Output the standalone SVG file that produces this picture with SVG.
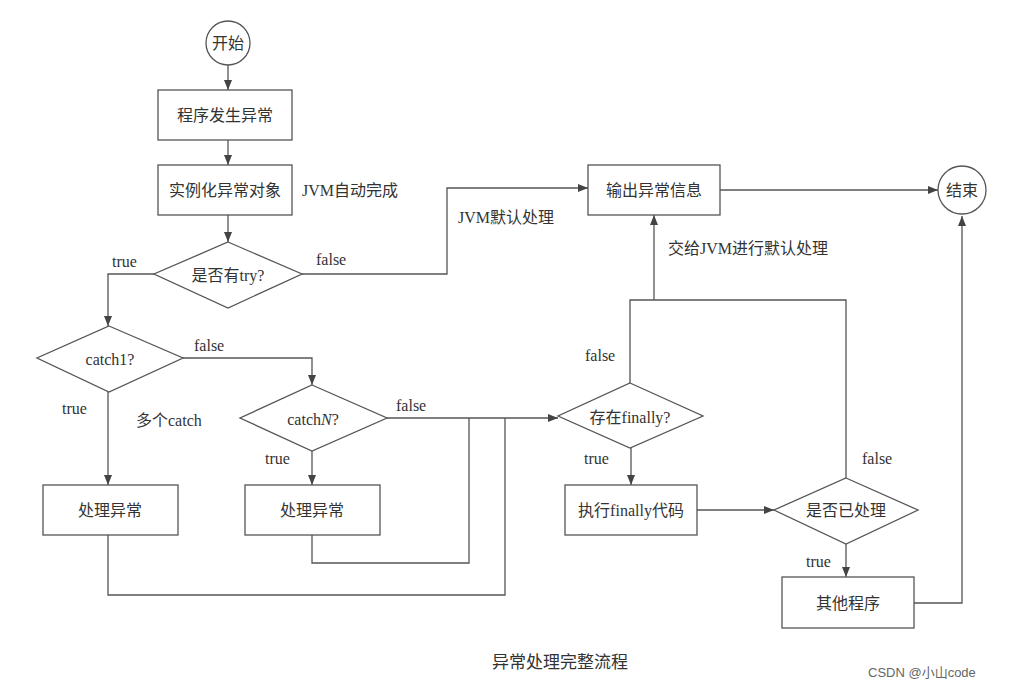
<svg xmlns="http://www.w3.org/2000/svg" width="1035" height="690" viewBox="0 0 1035 690">
<defs>
<marker id="a" markerWidth="10" markerHeight="8" refX="10" refY="4" orient="auto" markerUnits="userSpaceOnUse"><path d="M0,0 L10,4 L0,8 Z" fill="#444"/></marker>
<style>
.s{fill:#fff;stroke:#555;stroke-width:1.3}
.c{fill:none;stroke:#555;stroke-width:1.3}
.t{font-family:"Liberation Serif","Noto Sans CJK SC",serif;font-size:16px;fill:#333}
.m{text-anchor:middle;dominant-baseline:central}
</style>
</defs>
<rect width="1035" height="690" fill="#fff"/>
<g id="connectors" class="c">
<path d="M228,65 V90" marker-end="url(#a)"/>
<path d="M228,140 V165" marker-end="url(#a)"/>
<path d="M228,215 V242" marker-end="url(#a)"/>
<path d="M302,274 H447 V188 H588" marker-end="url(#a)"/>
<path d="M720,190 H938" marker-end="url(#a)"/>
<path d="M154,274 H108 V326" marker-end="url(#a)"/>
<path d="M183,358 H312 V385" marker-end="url(#a)"/>
<path d="M387,418 H558" marker-end="url(#a)"/>
<path d="M108,392 V485" marker-end="url(#a)"/>
<path d="M312,451 V485" marker-end="url(#a)"/>
<path d="M312,535 V563 H469 V418"/>
<path d="M108,535 V595 H505 V418"/>
<path d="M630,383 V300 H846 V478"/>
<path d="M654,300 V215" marker-end="url(#a)"/>
<path d="M631,448 V485" marker-end="url(#a)"/>
<path d="M697,510 H774" marker-end="url(#a)"/>
<path d="M846,544 V577" marker-end="url(#a)"/>
<path d="M914,603 H962 V216" marker-end="url(#a)"/>
</g>
<g id="start"><circle class="s" cx="228" cy="43" r="22"/><text class="t m" x="228" y="43">开始</text></g>
<g id="n1"><rect class="s" x="158" y="90" width="134" height="50"/><text class="t m" x="225" y="115">程序发生异常</text></g>
<g id="n2"><rect class="s" x="158" y="165" width="134" height="50"/><text class="t m" x="225" y="190">实例化异常对象</text></g>
<g id="try"><polygon class="s" points="228,242 302,274 228,308 154,274"/><text class="t m" x="228" y="275">是否有try?</text></g>
<g id="out"><rect class="s" x="588" y="165" width="132" height="50"/><text class="t m" x="654" y="190">输出异常信息</text></g>
<g id="end"><circle class="s" cx="962" cy="190" r="24"/><text class="t m" x="962" y="190">结束</text></g>
<g id="catch1"><polygon class="s" points="109,326 183,358 109,392 37,358"/><text class="t m" x="110" y="359">catch1?</text></g>
<g id="catchN"><polygon class="s" points="312,385 387,418 312,451 240,418"/><text class="t m" x="313" y="419">catch<tspan font-style="italic">N</tspan>?</text></g>
<g id="h1"><rect class="s" x="43" y="485" width="135" height="50"/><text class="t m" x="110" y="510">处理异常</text></g>
<g id="h2"><rect class="s" x="245" y="485" width="135" height="50"/><text class="t m" x="312" y="510">处理异常</text></g>
<g id="fin"><polygon class="s" points="630,383 703,416 630,448 558,416"/><text class="t m" x="630" y="417">存在finally?</text></g>
<g id="exec"><rect class="s" x="565" y="485" width="132" height="50"/><text class="t m" x="631" y="510">执行finally代码</text></g>
<g id="handled"><polygon class="s" points="846,478 918,510 846,544 774,510"/><text class="t m" x="846" y="510">是否已处理</text></g>
<g id="other"><rect class="s" x="782" y="577" width="132" height="51"/><text class="t m" x="848" y="603">其他程序</text></g>
<g id="labels" class="t">
<text x="302" y="196">JVM自动完成</text>
<text x="112" y="267">true</text>
<text x="316" y="265">false</text>
<text x="458" y="223">JVM默认处理</text>
<text x="194" y="351">false</text>
<text x="62" y="414">true</text>
<text x="136" y="426">多个catch</text>
<text x="396" y="411">false</text>
<text x="265" y="464">true</text>
<text x="668" y="254">交给JVM进行默认处理</text>
<text x="585" y="361">false</text>
<text x="584" y="464">true</text>
<text x="862" y="464">false</text>
<text x="806" y="567">true</text>
<text x="560" y="668" text-anchor="middle" font-size="17">异常处理完整流程</text>
<text x="868" y="677" font-family="Liberation Sans,Noto Sans CJK SC,sans-serif" font-size="13" fill="#666">CSDN @小山code</text>
</g>
</svg>
